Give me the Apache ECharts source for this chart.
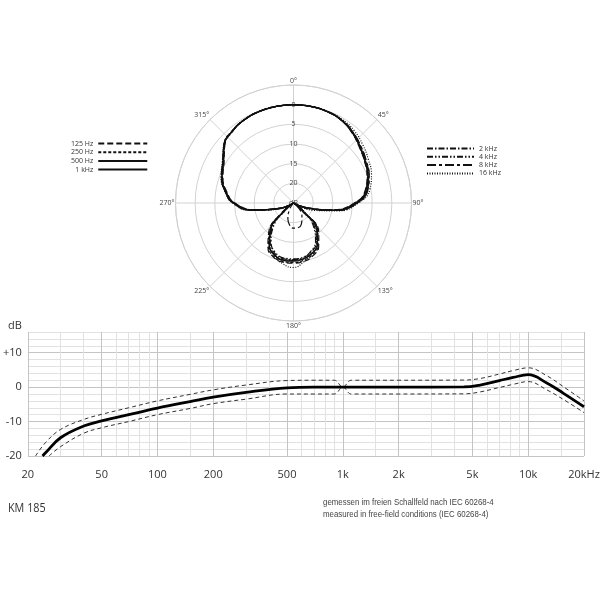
<!DOCTYPE html>
<html><head><meta charset="utf-8">
<script src="https://cdn.jsdelivr.net/npm/echarts@6/dist/echarts.min.js"></script>
<style>html,body{margin:0;padding:0;background:#fff}#c{width:600px;height:600px}</style>
</head><body><div id="c"></div><script>
// ---- polar pattern (attenuation in dB, 0 = on-axis) ----
const angles = [0,10,20,30,40,50,60,70,80,90,100,110,120,130,140,150,160,170,180,190,200,210,220,230,240,250,260,270,280,290,300,310,320,330,340,350,360];
const p125 = [0,0.05,0.2,0.7,1.8,3.1,4.1,5.1,6.5,9.5,15,22,25,21.5,15.0,12.2,10.7,9.9,9.7,9.7,10.3,12.0,15.2,21,25,21,15.2,10.1,7.7,5.9,4.6,2.2,1.1,0.4,0.15,0.05,0];
const p250 = [0,0.05,0.2,0.7,1.7,3.0,4.0,5.0,6.4,9.4,14.8,21.5,25,21.8,15.4,12.5,11.0,10.2,9.9,9.9,10.5,12.3,15.5,21.5,25,21,15,10.0,7.6,5.8,4.5,2.1,1.0,0.4,0.15,0.05,0];
const p500 = [0,0.05,0.2,0.7,1.7,3.0,4.0,4.9,6.3,9.3,14.6,21.5,25,22,15.8,12.9,11.3,10.5,10.2,10.2,10.9,12.6,15.8,21.8,25,20.8,14.8,9.9,7.5,5.7,4.4,2.1,1.0,0.4,0.15,0.05,0];
const p1k  = [0,0.05,0.2,0.6,1.6,2.9,3.9,4.8,6.1,9.0,14.3,21,25,21.5,15.5,12.8,11.4,10.6,10.4,10.3,11,12.8,16,22,25,20.5,14.5,9.7,7.4,5.6,4.3,2.0,1.0,0.4,0.15,0.05,0];
const p2k  = [0,0.05,0.2,0.6,1.5,2.8,3.8,4.7,6.0,8.8,14.0,20.5,25,22.5,16.5,13.4,11.8,10.9,10.6,10.6,11.3,13.2,16.5,22.5,25,20.5,14.3,9.6,7.3,5.5,4.2,1.9,0.9,0.4,0.15,0.05,0];
const p4k  = [0,0.05,0.2,0.6,1.5,2.7,3.7,4.6,5.9,8.9,14.2,21,25,23,17,13.8,12.0,11.0,10.8,10.8,11.6,13.6,17,23,25,20.8,14.6,9.7,7.3,5.5,4.2,1.9,0.9,0.4,0.15,0.05,0];
const p8k  = [0,0.05,0.25,0.7,1.5,2.6,3.6,4.5,5.8,8.8,14.5,21.5,25,24,22,20.7,19.2,18.6,18.6,19.3,20.8,22.8,24.5,25,25,21,14.8,9.8,7.4,5.6,4.3,2.0,1.0,0.4,0.15,0.05,0];
const p16k = [0,0.05,0.15,0.4,1.0,2.0,3.0,3.9,5.3,8.5,13.5,19.5,24,21,16,13.2,11.3,9.8,8.6,9.3,10.8,12.8,16,21.5,25,20.2,14.2,9.5,7.2,5.4,4.1,1.9,0.9,0.35,0.1,0.05,0];
const polarNames = ['125 Hz','250 Hz','500 Hz','1 kHz','2 kHz','4 kHz','8 kHz','16 kHz'];

// ---- frequency response ----
const nomFreq = [24,25,30,40,50,70,100,150,200,300,500,700,1000,2000,4500,5500,7000,8300,10000,12600,15500,20000];
const nomDb   = [-20,-19.0,-14.7,-11.3,-9.8,-8.0,-6.1,-4.2,-2.9,-1.5,-0.2,0,0,0,0.05,0.6,1.9,2.8,3.6,1.2,-1.8,-5.7];
const upFreq  = [22,25,30,40,50,70,100,150,200,300,500,700,900,1000,1110,2000,4500,5500,7000,8300,10000,12600,15500,20000];
const upDb    = [-20,-16,-12.3,-9.4,-7.9,-6.0,-4.0,-2.1,-0.8,0.6,1.9,2,2,0,2,2,2.05,2.5,3.8,4.8,5.6,3.3,0.1,-4.0];
const loFreq  = [26,30,40,50,70,100,150,200,300,500,700,900,1000,1110,2000,4500,5500,7000,8300,10000,12600,15500,20000];
const loDb    = [-20,-17.3,-13.4,-11.8,-10.0,-8.0,-6.2,-4.8,-3.5,-2.0,-2,-2,0,-2,-2,-1.95,-1.4,-0.1,0.8,1.6,-0.8,-3.6,-7.4];
const majorFreqs = [20,50,100,200,500,1000,2000,5000,10000,20000];
const majorLabels = ['20','50','100','200','500','1k','2k','5k','10k','20kHz'];
const minorFreqs = [30,40,60,70,80,90,150,300,400,600,700,800,900,1500,3000,4000,6000,7000,8000,9000,15000];

const polarData = [p125,p250,p500,p1k,p2k,p4k,p8k,p16k];
const dashes = [[6,3],[3,2],'solid','solid',[6,2,1.5,2],[6,2,1.5,2,1.5,2],[9,3,3,3],[1,1.5]];

const chart = echarts.init(document.getElementById('c'), null, {renderer:'canvas'});
const polarSeries = polarNames.map((n,k)=>({
  name:n, type:'line', coordinateSystem:'polar', symbol:'none', smooth:true, z:5,
  data: angles.map((a,i)=>[polarData[k][i], a]),
  itemStyle:{color:'#111'},
  lineStyle:{color:'#111', width:1.2, type:dashes[k]}
}));
const pair = (fs, vs) => fs.map((f,i)=>[f, vs[i]]);
const legendCommon = {orient:'vertical', padding:0, itemHeight:7, selectedMode:false,
  itemStyle:{opacity:0}, textStyle:{fontSize:7, color:'#333', lineHeight:7}};

chart.setOption({
  animation:false,
  textStyle:{fontFamily:'Open Sans'},
  polar:{center:[293.5,203], radius:118},
  angleAxis:{type:'value', min:0, max:360, interval:45, startAngle:90, clockwise:true,
    axisLine:{show:true, lineStyle:{color:'#d2d2d2'}}, axisTick:{show:false},
    axisLabel:{formatter:v=> v>=360?'':v+'°', fontSize:7, color:'#444', margin:1},
    splitLine:{show:true, lineStyle:{color:'#d2d2d2'}}},
  radiusAxis:{type:'value', min:-5, max:25, interval:5, inverse:true,
    axisLine:{show:false}, axisTick:{show:false},
    axisLabel:{formatter:v=> v>=25?'dB':(v<0?'':String(v)), fontSize:7, color:'#444', margin:0, align:'center', verticalAlign:'middle'},
    splitLine:{show:true, lineStyle:{color:'#d2d2d2'}}},
  legend:[
    Object.assign({data:polarNames.slice(0,4), left:71, top:140, align:'right', itemWidth:49, itemGap:1.7}, legendCommon),
    Object.assign({data:polarNames.slice(4), left:426, top:145, align:'left', itemWidth:47, itemGap:1.3}, legendCommon)
  ],
  grid:{left:26, right:16, top:332, bottom:144},
  xAxis:{type:'log', logBase:10, min:20, max:20000,
    axisLine:{show:false}, axisTick:{show:false}, axisLabel:{show:false}, splitLine:{show:false}},
  yAxis:{type:'value', min:-20, max:16, interval:2,
    name:'dB', nameLocation:'end', nameGap:1, nameTextStyle:{fontSize:11, color:'#333', align:'right', padding:[0,6,0,0]},
    axisLine:{show:false}, axisTick:{show:false},
    axisLabel:{formatter:v=> (v%10===0 && v<16) ? (v>0?'+'+v:String(v)) : '', fontSize:11, color:'#333', margin:6},
    splitLine:{show:true, lineStyle:{color:['#c4c4c4','#e2e2e2','#e2e2e2','#e2e2e2','#e2e2e2']}}},
  graphic:[
    {type:'text', x:8, y:503, scaleX:0.9, style:{text:'KM 185', fontSize:12, fill:'#333', fontFamily:'Open Sans'}},
    {type:'text', x:323, y:497, scaleX:0.875, style:{text:'gemessen im freien Schallfeld nach IEC 60268-4\nmeasured in free-field conditions (IEC 60268-4)', fontSize:9, lineHeight:11.7, fill:'#444', fontFamily:'Liberation Sans'}}
  ],
  series: polarSeries.concat([
    {name:'minor-grid', type:'line', data:[], silent:true,
     markLine:{silent:true, symbol:'none', z:1, label:{show:false}, lineStyle:{color:'#e2e2e2', width:1, type:'solid'},
       data:minorFreqs.map(f=>({xAxis:f}))}},
    {name:'major-grid', type:'line', data:[], silent:true,
     markLine:{silent:true, symbol:'none', z:1, lineStyle:{color:'#c4c4c4', width:1, type:'solid'},
       label:{show:true, position:'start', distance:13, fontSize:11, color:'#333'},
       data:majorFreqs.map((f,i)=>({xAxis:f, label:{formatter:majorLabels[i]}}))}},
    {name:'upper', type:'line', data:pair(upFreq,upDb), symbol:'none', smooth:0.4, z:6,
     lineStyle:{color:'#333', width:1, type:[4,3]}},
    {name:'lower', type:'line', data:pair(loFreq,loDb), symbol:'none', smooth:0.4, z:6,
     lineStyle:{color:'#333', width:1, type:[4,3]}},
    {name:'nominal', type:'line', data:pair(nomFreq,nomDb), symbol:'none', smooth:0.4, z:7,
     lineStyle:{color:'#000', width:2.8}}
  ])
});
</script></body></html>
